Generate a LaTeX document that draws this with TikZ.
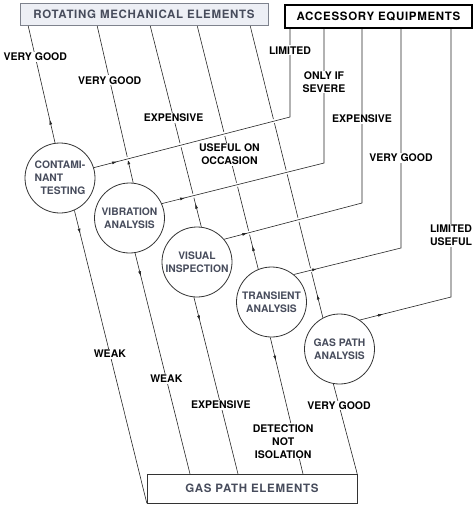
\documentclass[tikz,border=0pt]{standalone}
\usepackage{fontspec}
\setmainfont{TeX Gyre Heros}
\newfontfamily\widefont{TeX Gyre Heros}[LetterSpace=6]
\usetikzlibrary{arrows.meta,decorations.markings,backgrounds}
\definecolor{slate}{HTML}{474C5C}
\definecolor{paleblue}{HTML}{EDEFF5}
\begin{document}
\begin{tikzpicture}
[x=1pt,y=-1pt,
  technique/.style={shape=circle,draw=black!80,line width=0.8pt,fill=white,minimum size=70pt,inner sep=0pt,align=center,text=slate,font=\bfseries\fontsize{10.3}{13}\selectfont},
  elementbox/.style={shape=rectangle,inner sep=0pt,font=\widefont\bfseries\fontsize{11.5}{14}\selectfont},
  lbl/.style={fill=white,inner sep=1pt,align=center,font=\bfseries\fontsize{10.5}{13}\selectfont},
  link/.style={draw=black!85,line width=0.6pt,postaction={decorate},
    decoration={markings,mark=at position 24pt with {\arrow{Latex[length=5pt,width=3pt]}}}},
  crossing/.style={preaction={draw=white,line width=4pt}}]
\useasboundingbox (0,0) rectangle (474,509);
% element boxes
\node (rot) at (144,14) [elementbox,draw=slate!70,fill=paleblue,text=slate,minimum width=248pt,minimum height=22pt] {ROTATING MECHANICAL ELEMENTS};
\node (acc) at (378.5,16.5) [elementbox,draw=black,line width=1.6pt,minimum width=187pt,minimum height=23pt] {ACCESSORY EQUIPMENTS};
\node (gpe) at (252,488.5) [elementbox,draw=black!80,text=slate,minimum width=210pt,minimum height=29pt] {GAS PATH ELEMENTS};
% techniques
\node (ct) at (60,178) [technique,align=left] {CONTAMI-\\NANT\\\hspace*{6pt}TESTING};
\node (va) at (129.5,218) [technique] {VIBRATION\\ANALYSIS};
\node (vi) at (197,262) [technique] {VISUAL\\INSPECTION};
\node (ta) at (271.5,302) [technique] {TRANSIENT\\ANALYSIS};
\node (gpa) at (339.5,349) [technique] {GAS PATH\\ANALYSIS};
% ends on the boxes
\coordinate (r1) at (28,25);
\coordinate (r2) at (97,25);
\coordinate (r3) at (150,25);
\coordinate (r4) at (197,25);
\coordinate (r5) at (250,25);
\coordinate (a1) at (290,28);
\coordinate (b1) at (290,117);
\coordinate (a2) at (324,28);
\coordinate (b2) at (324,163);
\coordinate (a3) at (362,28);
\coordinate (b3) at (362,203);
\coordinate (a4) at (401,28);
\coordinate (b4) at (401,248);
\coordinate (a5) at (451,28);
\coordinate (b5) at (451,297);
\coordinate (g2) at (190,474);
\coordinate (g3) at (238,474);
\coordinate (g4) at (303,474);
% lines
\begin{scope}[on background layer]
\draw[link] (ct.98) -- node[lbl,pos=0.73]{VERY GOOD} (r1);
\draw[link] (va.84) -- node[lbl,pos=0.65]{VERY GOOD} (r2);
\draw[link] (vi.83) -- node[lbl,pos=0.54]{EXPENSIVE} (r3);
\draw[link] (ta.112) -- node[lbl,pos=0.47]{USEFUL ON\\OCCASION} (r4);
\draw[link] (gpa.118) -- (r5);
\draw[link,crossing] (ct.17) -- (b1) -- node[lbl,pos=0.75]{LIMITED} (a1);
\draw[link,crossing] (va.24) -- (b2) -- node[lbl,pos=0.6]{ONLY IF\\SEVERE} (a2);
\draw[link,crossing] (vi.40) -- (b3) -- node[lbl,pos=0.48]{EXPENSIVE} (a3);
\draw[link,crossing] (ta.51) -- (b4) -- node[lbl,pos=0.41]{VERY GOOD} (a4);
\draw[link,crossing] (gpa.55) -- (b5) -- node[lbl,pos=0.23]{LIMITED\\USEFUL} (a5);
\draw[link] (ct.-66) -- node[lbl,pos=0.49]{WEAK} (gpe.south west);
\draw[link] (va.279) -- node[lbl,pos=0.57]{WEAK} (g2);
\draw[link] (vi.265) -- node[lbl,pos=0.61]{EXPENSIVE} (g3);
\draw[link] (ta.268) -- node[lbl,pos=0.76,xshift=-12pt]{DETECTION\\NOT\\ISOLATION} (g4);
\draw[link] (gpa.260) -- node[lbl,pos=0.24]{VERY GOOD} (gpe.north east);
\end{scope}
\end{tikzpicture}
\end{document}
